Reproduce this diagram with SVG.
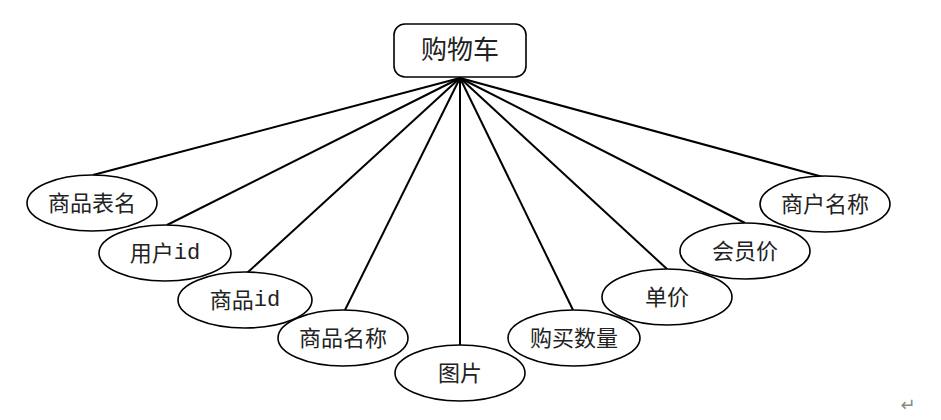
<svg xmlns="http://www.w3.org/2000/svg" width="941" height="420" viewBox="0 0 941 420">
<style>
.e{fill:#fff;stroke:#000;stroke-width:1.6}
.t{font-family:"Liberation Serif","Noto Sans CJK SC",serif;font-size:22px;fill:#222;text-anchor:middle;dominant-baseline:central}
.m{font-family:"Liberation Mono",monospace}
.c line{stroke:#000;stroke-width:2}
</style>
<rect width="941" height="420" fill="#fff"/>
<g class="c" id="connectors">
<line x1="460" y1="78" x2="93" y2="175"/>
<line x1="460" y1="78" x2="167" y2="225"/>
<line x1="460" y1="78" x2="247" y2="273"/>
<line x1="460" y1="78" x2="345" y2="310"/>
<line x1="460" y1="78" x2="460" y2="345"/>
<line x1="460" y1="78" x2="573" y2="310"/>
<line x1="460" y1="78" x2="667" y2="269"/>
<line x1="460" y1="78" x2="745" y2="223"/>
<line x1="460" y1="78" x2="823" y2="177"/>
</g>
<g id="root">
<rect x="394" y="24" width="132" height="53" rx="11" fill="#fff" stroke="#000" stroke-width="1.6"/>
<text class="t" x="460" y="50" style="font-size:26px">购物车</text>
</g>
<g id="n1"><ellipse class="e" cx="92" cy="203" rx="65" ry="28"/><text class="t" x="92" y="203">商品表名</text></g>
<g id="n2"><ellipse class="e" cx="165" cy="253" rx="66" ry="28"/><text class="t" x="165" y="253">用户<tspan class="m">id</tspan></text></g>
<g id="n3"><ellipse class="e" cx="245" cy="300" rx="67" ry="28"/><text class="t" x="245" y="300">商品<tspan class="m">id</tspan></text></g>
<g id="n4"><ellipse class="e" cx="343" cy="338" rx="65" ry="28"/><text class="t" x="343" y="338">商品名称</text></g>
<g id="n5"><ellipse class="e" cx="460" cy="373" rx="65" ry="28"/><text class="t" x="460" y="373">图片</text></g>
<g id="n6"><ellipse class="e" cx="574" cy="338" rx="66" ry="28"/><text class="t" x="574" y="338">购买数量</text></g>
<g id="n7"><ellipse class="e" cx="667" cy="297" rx="65" ry="28"/><text class="t" x="667" y="297">单价</text></g>
<g id="n8"><ellipse class="e" cx="745" cy="251" rx="65" ry="28"/><text class="t" x="745" y="251">会员价</text></g>
<g id="n9"><ellipse class="e" cx="825" cy="204" rx="65" ry="28"/><text class="t" x="825" y="204">商户名称</text></g>
<text x="908" y="404" style="font-family:'DejaVu Sans',sans-serif;font-size:18px;fill:#888;text-anchor:middle;dominant-baseline:central">↵</text>
</svg>
